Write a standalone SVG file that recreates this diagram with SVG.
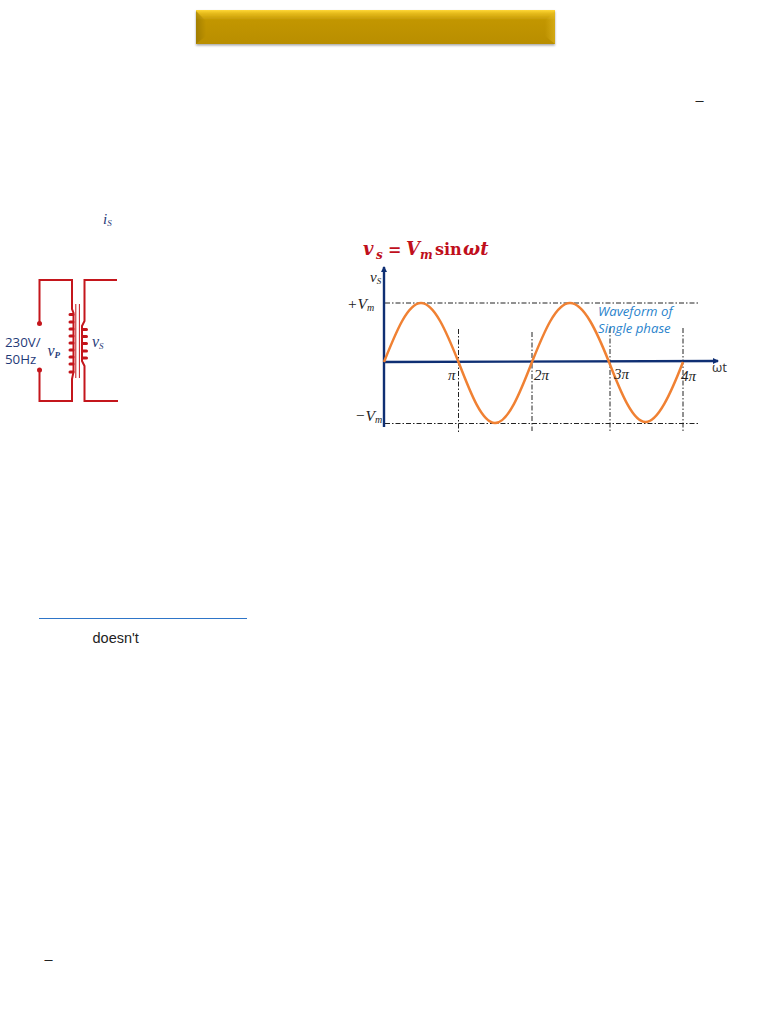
<svg xmlns="http://www.w3.org/2000/svg" width="768" height="1024" viewBox="0 0 768 1024">
<style>
.m{font-family:"Liberation Serif","DejaVu Serif",serif;font-style:italic;fill:#222}
.n{font-family:"Liberation Serif","DejaVu Serif",serif;font-style:italic;fill:#1f3a78}
.c{font-family:"Open Sans","Liberation Sans",sans-serif;fill:#1f3a78;font-size:13.300px}
.w{font-family:"Open Sans","Liberation Sans",sans-serif;font-style:italic;fill:#2a83cc;font-size:13.200px}
.t{font-family:"Liberation Sans",Arial,sans-serif;fill:#222}
.f{font-family:"DejaVu Serif","Liberation Serif",serif;font-style:italic;font-weight:bold;fill:#c00f1c}
.u{font-family:"DejaVu Serif","Liberation Serif",serif;font-weight:bold;fill:#c00f1c}
.r{fill:none;stroke:#c4161c;stroke-width:2}
.k{fill:none;stroke:#c4161c;stroke-width:3;stroke-linecap:round}
.d{fill:none;stroke:#222;stroke-width:1;stroke-dasharray:5 2 1.500 2}
.a{fill:none;stroke:#0f2f73;stroke-width:2.400}
</style>
<defs>
<linearGradient id="gold" x1="0" y1="0" x2="0" y2="1">
<stop offset="0" stop-color="#ffd83a"/><stop offset="0.1" stop-color="#e6bb1a"/><stop offset="0.3" stop-color="#c29604"/><stop offset="1" stop-color="#b98e00"/>
</linearGradient>
<linearGradient id="bl" x1="0" y1="0" x2="1" y2="0"><stop offset="0" stop-color="#8f7000" stop-opacity="0.600"/><stop offset="1" stop-color="#8f7000" stop-opacity="0"/></linearGradient>
<linearGradient id="br" x1="0" y1="0" x2="1" y2="0"><stop offset="0" stop-color="#e2b820" stop-opacity="0"/><stop offset="1" stop-color="#e2b820" stop-opacity="0.600"/></linearGradient>
<filter id="sh" x="-5%" y="-20%" width="110%" height="150%"><feDropShadow dx="0" dy="1.500" stdDeviation="1.200" flood-color="#000" flood-opacity="0.350"/></filter>
<marker id="ah" markerWidth="7" markerHeight="7" refX="5" refY="3" orient="auto" markerUnits="userSpaceOnUse"><path d="M0,0L6,3L0,6z" fill="#0f2f73"/></marker>
</defs>

<g id="banner">
<rect x="196" y="10" width="359" height="34" fill="url(#gold)" filter="url(#sh)"/>
<path d="M196,11L206,21V36L196,44z" fill="url(#bl)"/>
<path d="M555,11L545,21V36L555,44z" fill="url(#br)"/>
</g>

<g id="transformer">
<g id="primary-winding">
<path class="r" d="M39.500,323V280H72V309L73.500,313V372L72,379V401H39.500V370"/>
<circle cx="39.500" cy="323.500" r="2.500" fill="#c4161c"/>
<circle cx="39.500" cy="370" r="2.500" fill="#c4161c"/>
<path class="k" d="M70,314.500H73M70,322H73M70,329H73M70,336H73M70,343H73M70,350H73M70,357H73M70,364H73M70,372H73"/>
</g>
<g id="core"><path d="M75.800,304V378M79.400,304V378" fill="none" stroke="#c4161c" stroke-width="1"/></g>
<g id="secondary-winding">
<path class="r" d="M117,280H84.500V321L82,326V361L84.500,366V401H118"/>
<path class="k" d="M83,329.500H86.500M83,336.500H86.500M83,343.500H86.500M83,351H86.500M83,358H86.500"/>
</g>
</g>

<g id="transformer-labels">
<text class="n" x="103" y="224" font-size="15">i<tspan font-size="9" dy="2">S</tspan></text>
<text class="c" x="5" y="347">230V/</text>
<text class="c" x="5" y="364">50Hz</text>
<text class="n" x="47.500" y="356" font-size="16">v<tspan font-size="9" dy="2" font-weight="bold">P</tspan></text>
<text class="n" x="92" y="347" font-size="16">v<tspan font-size="9" dy="2">S</tspan></text>
</g>

<g id="waveform">
<g id="guides">
<path class="d" d="M385,303H700M385,423.500H698M458.500,329V433M532,332V431M610,328V433M683,328V433"/>
</g>
<g id="axes">
<path class="a" d="M384,427V267" marker-end="url(#ah)"/>
<path class="a" d="M384,362L718,361" marker-end="url(#ah)"/>
</g>
<path id="sine" fill="none" stroke="#f08133" stroke-width="2.500" d="M384,362C396,332 407.700,303 421,303C434.300,303 446.500,332 458.500,362C470.500,393 482,423 495,423C508,423 520,393 532,362C544,332 556,303 570,303C584,303 597,332 609,362C621,393 633,422 645.500,422C658,422 671,393 683,362"/>
</g>

<g id="waveform-labels">
<text class="f" x="363" y="255" font-size="18">v</text>
<text class="f" x="376" y="259" font-size="12">s</text>
<text class="u" x="388" y="255" font-size="16">=</text>
<text class="f" x="406" y="255" font-size="18">V</text>
<text class="f" x="420" y="259" font-size="12">m</text>
<text class="u" x="435" y="255" font-size="16">sin</text>
<text class="f" x="463" y="255" font-size="18">ωt</text>
<text class="m" x="370" y="282" font-size="15">v<tspan font-size="9" dy="2">S</tspan></text>
<text class="m" x="347" y="309" font-size="15.500">+V<tspan font-size="10" dy="2">m</tspan></text>
<text class="m" x="355" y="421" font-size="15.500">−V<tspan font-size="10" dy="2">m</tspan></text>
<text class="m" x="448" y="380" font-size="15">π</text>
<text class="m" x="534" y="380" font-size="15">2π</text>
<text class="m" x="614" y="379" font-size="15">3π</text>
<text class="m" x="681" y="381" font-size="15">4π</text>
<text x="712" y="372" font-family="Open Sans,Liberation Sans,sans-serif" font-size="13.300" fill="#333">ωt</text>
<text class="w" x="598" y="316">Waveform of</text>
<text class="w" x="598" y="333">Single phase</text>
</g>

<g id="page-text">
<path d="M39,618.500H247" stroke="#2e75c8" stroke-width="1" fill="none"/>
<text class="t" x="92.500" y="642.500" font-size="14.500">doesn't</text>
<text class="t" x="695.500" y="105" font-size="14.500">–</text>
<text class="t" x="44.500" y="964" font-size="14.500">–</text>
</g>
</svg>
